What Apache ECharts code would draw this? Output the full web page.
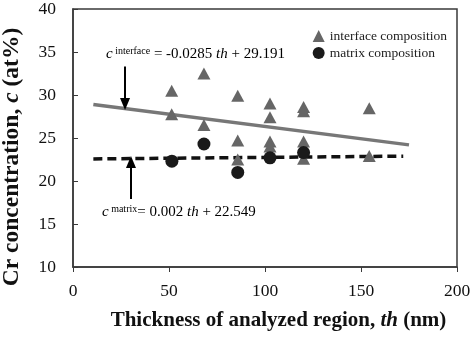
<!DOCTYPE html>
<html>
<head>
<meta charset="utf-8">
<script src="https://cdn.jsdelivr.net/npm/echarts@6/dist/echarts.min.js"></script>
<style>html,body{margin:0;padding:0;background:#fff}#c{width:474px;height:339px}</style>
</head>
<body>
<div id="c"></div>
<script>
// Data
const interfaceTh = [51.4, 51.4, 68.2, 68.2, 85.8, 85.8, 85.8, 102.6, 102.6, 102.6, 102.6, 120.1, 120.1, 120.1, 120.1, 154.3, 154.3];
const interfaceC  = [30.5, 27.75, 32.5, 26.5, 29.9, 24.7, 22.5, 29.0, 27.4, 24.6, 24.0, 28.6, 28.1, 24.6, 22.6, 28.45, 22.9];
const matrixTh = [51.5, 68.2, 85.8, 102.6, 120.1];
const matrixC  = [22.3, 24.3, 21.0, 22.7, 23.3];
const interfaceFit = [[10.6, 28.89], [175, 24.2]];
const matrixFit = [[10.6, 22.57], [172, 22.89]];
const arrowDown = [[27.1, 33.3], [27.1, 28.95]];
const arrowUp = [[30.2, 17.9], [30.2, 22.2]];
const xTicks = [0, 50, 100, 150, 200];
const yTicks = [10, 15, 20, 25, 30, 35, 40];

const FONT = '"Liberation Serif", "Times New Roman", serif';
const chart = echarts.init(document.getElementById('c'));
chart.setOption({
  animation: false,
  grid: { left: 73, right: 17, top: 9, bottom: 72, show: true, borderColor: '#3a3a3a', borderWidth: 1.5,
          containLabel: false, outerBoundsMode: 'none' },
  legend: {
    right: 22, top: 24, orient: 'vertical', itemGap: 3, itemWidth: 12, itemHeight: 12,
    textStyle: { fontFamily: FONT, fontSize: 13.5, color: '#222' },
    data: [{ name: 'interface composition', icon: 'triangle' }, { name: 'matrix composition', icon: 'circle' }]
  },
  xAxis: {
    type: 'value', min: xTicks[0], max: xTicks[xTicks.length - 1], interval: 50,
    name: 'Thickness of analyzed region, {i|th} (nm)', nameLocation: 'middle', nameGap: 43,
    nameTextStyle: { fontFamily: FONT, fontSize: 21, fontWeight: 'bold', color: '#111', padding: [0, 0, 0, 27],
      rich: { i: { fontFamily: FONT, fontSize: 21, fontWeight: 'bold', fontStyle: 'italic', color: '#111' } } },
    axisLine: { show: true, lineStyle: { color: '#3a3a3a', width: 1.5 } },
    axisTick: { show: true, inside: false, length: 5, lineStyle: { color: '#3a3a3a' } },
    axisLabel: { fontFamily: FONT, fontSize: 17.5, color: '#111', margin: 15 },
    splitLine: { show: false }
  },
  yAxis: {
    type: 'value', min: yTicks[0], max: yTicks[yTicks.length - 1], interval: 5,
    name: 'Cr concentration, {i|c} (at%)', nameLocation: 'middle', nameGap: 49,
    nameTextStyle: { fontFamily: FONT, fontSize: 23.5, fontWeight: 'bold', color: '#111', padding: [0, 38, 0, 0],
      rich: { i: { fontFamily: FONT, fontSize: 23.5, fontWeight: 'bold', fontStyle: 'italic', color: '#111' } } },
    axisLine: { show: true, lineStyle: { color: '#3a3a3a', width: 1.5 } },
    axisTick: { show: true, inside: true, length: 5, lineStyle: { color: '#3a3a3a' } },
    axisLabel: { fontFamily: FONT, fontSize: 17.5, color: '#111', margin: 17 },
    splitLine: { show: false }
  },
  series: [
    {
      name: 'interfaceFit', type: 'line', data: interfaceFit, symbol: 'none', silent: true,
      lineStyle: { color: '#777', width: 3.5 }, z: 1
    },
    {
      name: 'matrixFit', type: 'line', data: matrixFit, symbol: 'none', silent: true,
      lineStyle: { color: '#111', width: 3.5, type: [9, 5] }, z: 1
    },
    {
      name: 'interface composition', type: 'scatter', symbol: 'triangle', symbolSize: [13, 12],
      itemStyle: { color: '#666', opacity: 1 }, z: 3,
      data: interfaceTh.map((t, i) => [t, interfaceC[i]])
    },
    {
      name: 'matrix composition', type: 'scatter', symbol: 'circle', symbolSize: 13,
      itemStyle: { color: '#1a1a1a', opacity: 1 }, z: 4,
      data: matrixTh.map((t, i) => [t, matrixC[i]])
    },
    {
      name: 'arrows', type: 'line', data: [], silent: true,
      markLine: {
        silent: true, symbol: ['none', 'triangle'], symbolSize: [10, 12], animation: false,
        lineStyle: { color: '#000', width: 2, type: 'solid' }, label: { show: false },
        data: [
          [{ coord: arrowDown[0] }, { coord: arrowDown[1] }],
          [{ coord: arrowUp[0] }, { coord: arrowUp[1] }]
        ]
      }
    }
  ],
  graphic: [
    {
      type: 'text', left: 106, top: 46, silent: true,
      style: {
        text: '{c|c}{s| interface}{n| = -0.0285 }{c|th}{n| + 29.191}',
        rich: {
          c: { fontFamily: FONT, fontSize: 15, fontStyle: 'italic', color: '#111', verticalAlign: 'bottom' },
          s: { fontFamily: FONT, fontSize: 10, color: '#111', padding: [0, 0, 6, 0], verticalAlign: 'bottom' },
          n: { fontFamily: FONT, fontSize: 15, color: '#111', verticalAlign: 'bottom' }
        }
      }
    },
    {
      type: 'text', left: 102, top: 204, silent: true,
      style: {
        text: '{c|c}{s| matrix}{n|= 0.002 }{c|th}{n| + 22.549}',
        rich: {
          c: { fontFamily: FONT, fontSize: 15, fontStyle: 'italic', color: '#111', verticalAlign: 'bottom' },
          s: { fontFamily: FONT, fontSize: 10, color: '#111', padding: [0, 0, 6, 0], verticalAlign: 'bottom' },
          n: { fontFamily: FONT, fontSize: 15, color: '#111', verticalAlign: 'bottom' }
        }
      }
    }
  ]
});
</script>
</body>
</html>
